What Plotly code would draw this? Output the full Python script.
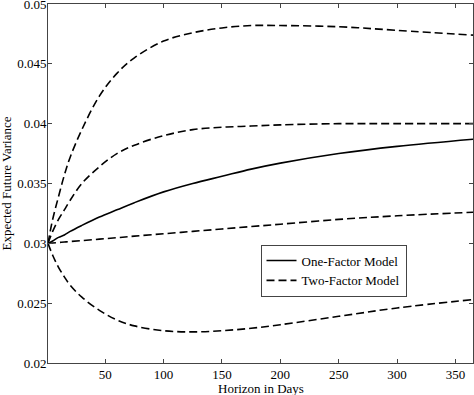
import plotly.graph_objects as go

# Horizon (days)
days = [1, 5, 10, 15, 20, 30, 45, 60, 75, 100, 125, 150, 175, 200, 250, 300, 365]

# One-factor model
one_factor = [0.0300, 0.0302, 0.0305, 0.0307, 0.0310, 0.0315, 0.0322, 0.0328, 0.0334, 0.0343,
              0.0350, 0.0356, 0.0362, 0.0367, 0.0375, 0.0381, 0.0387]

# Two-factor model curves
two_top = [0.0300, 0.0320, 0.0339, 0.0357, 0.0372, 0.0395, 0.0423, 0.0442, 0.0455, 0.0469,
           0.0476, 0.0480, 0.0482, 0.0482, 0.0481, 0.0478, 0.0474]
two_mid = [0.0300, 0.0310, 0.0320, 0.0328, 0.0336, 0.0350, 0.0364, 0.0375, 0.0382, 0.0390,
           0.0395, 0.0397, 0.0398, 0.0399, 0.0400, 0.0400, 0.0400]
two_low = [0.03000, 0.03003, 0.03007, 0.03011, 0.03015, 0.03023, 0.03035, 0.03047, 0.03060, 0.03080,
           0.03100, 0.03120, 0.03140, 0.03160, 0.03200, 0.03230, 0.03260]
two_bottom = [0.0300, 0.0290, 0.0280, 0.0272, 0.0265, 0.0255, 0.0244, 0.0236, 0.0231, 0.0227,
              0.0226, 0.0227, 0.0229, 0.0232, 0.0239, 0.0246, 0.0253]

x_ticks = [50, 100, 150, 200, 250, 300, 350]
y_ticks = [0.02, 0.025, 0.03, 0.035, 0.04, 0.045, 0.05]
y_tick_labels = ["0.02", "0.025", "0.03", "0.035", "0.04", "0.045", "0.05"]

fig = go.Figure()
fig.add_trace(go.Scatter(x=days, y=one_factor, mode="lines", name="One-Factor Model",
                         line=dict(color="black", width=1.6, shape="spline")))
dash = "8px,4px"
for i, ys in enumerate([two_top, two_mid, two_low, two_bottom]):
    fig.add_trace(go.Scatter(x=days, y=ys, mode="lines", name="Two-Factor Model",
                             showlegend=(i == 0),
                             line=dict(color="black", width=1.6, dash=dash, shape="spline")))

font = "Liberation Serif"
axis_common = dict(showgrid=False, zeroline=False, showline=True, linecolor="#444",
                   linewidth=1, mirror="ticks", ticks="inside", ticklen=4,
                   tickcolor="#444", automargin=False, ticklabeloverflow="allow",
                   tickfont=dict(family=font, size=13, color="black"))

fig.update_layout(
    width=474, height=395,
    margin=dict(l=48, r=1, t=4, b=32),
    paper_bgcolor="white", plot_bgcolor="white",
    font=dict(family=font, size=13, color="black"),
    xaxis=dict(range=[1, 365], tickvals=x_ticks, ticklabelstandoff=-1, **axis_common),
    yaxis=dict(range=[0.02, 0.05], tickvals=y_ticks, ticktext=y_tick_labels,
               ticklabelstandoff=-2, **axis_common),
    legend=dict(x=0.5, y=0.33, xanchor="left", yanchor="top",
                bordercolor="#444", borderwidth=1, bgcolor="white",
                font=dict(family=font, size=13), tracegroupgap=0, itemwidth=30),
    showlegend=True,
    annotations=[
        dict(text="Horizon in Days", xref="paper", yref="paper", x=0.5, y=-0.072,
             xanchor="center", yanchor="middle", showarrow=False,
             font=dict(family=font, size=13, color="black")),
        dict(text="Expected Future Variance", xref="paper", yref="paper", x=-0.0988, y=0.5,
             xanchor="center", yanchor="middle", textangle=-90, showarrow=False,
             font=dict(family=font, size=13, color="black")),
    ],
)

fig.write_html("out.html", config={"displayModeBar": False},
               post_script="document.body.style.margin='0';document.body.style.overflow='hidden';")
